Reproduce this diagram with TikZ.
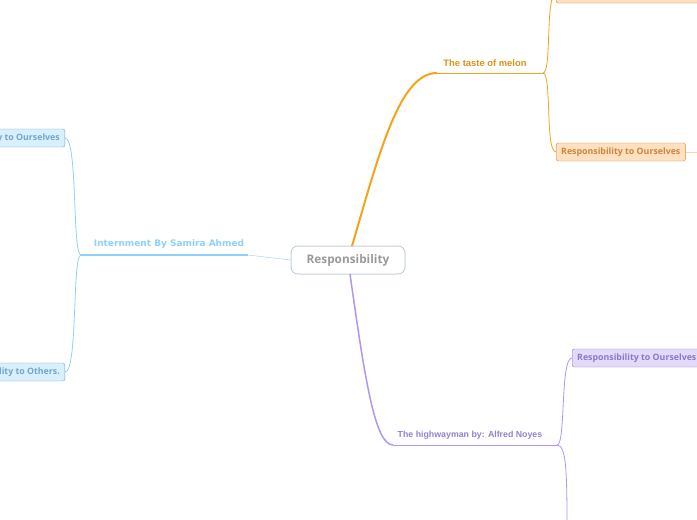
\documentclass[tikz,border=0pt]{standalone}
\usepackage{fontspec}
\setmainfont{Open Sans}
\newfontfamily\arialf{Liberation Sans}
\newfontfamily\verdf{DejaVu Sans}
\begin{document}
\begin{tikzpicture}[x=1pt,y=-1pt,
  lab/.style={font=\bfseries\fontsize{7.5}{9}\selectfont, inner sep=0pt},
  bx/.style={draw=#1!80!black, fill=#1!35, rounded corners=2pt, font=\bfseries\fontsize{8.8}{10}\selectfont, text=#1!80!black, minimum height=18pt, inner xsep=5pt, inner ysep=0pt}]
\useasboundingbox (0,0) rectangle (697,520);
\clip (0,0) rectangle (697,520);
\definecolor{orng}{HTML}{F7A21B}
\definecolor{obox}{HTML}{FFA64D}
\definecolor{blu}{HTML}{8FD0FA}
\definecolor{pur}{HTML}{B095F5}
\node[draw={rgb,255:red,195;green,208;blue,222}, line width=1pt, rounded corners=7pt, minimum width=114pt, minimum height=28pt, font=\bfseries\fontsize{11.8}{13}\selectfont, text=gray!80] (c) at (348,260) {Responsibility};
% orange
\node[lab, font=\arialf\bfseries\fontsize{9.4}{10}\selectfont, text=orng!90!black] (m) at (485,63) {The taste of melon};
\coordinate (m1) at (437,73); \coordinate (m2) at (543,73);
\draw[orng, line width=2pt] (352,246) .. controls (380,150) and (400,73) .. (m1);
\draw[orng, line width=0.8pt] (m1) -- (m2);
\node[bx=obox, anchor=west, minimum width=150pt] (o1) at (556,-6) {Responsibility to Others};
\node[bx=obox, anchor=west] (o2) at (556,152) {Responsibility to Ourselves};
\draw[orng, line width=0.8pt] (m2) .. controls (552,73) and (545,-6) .. (o1.west);
\draw[orng, line width=0.8pt] (m2) .. controls (552,73) and (545,152) .. (o2.west);
\draw[obox!50] (o2.east) -- (697,152);
% blue
\node[lab, font=\verdf\bfseries\fontsize{9}{10}\selectfont, text=blu] (s) at (169,244) {Internment By Samira Ahmed};
\coordinate (s1) at (81,255); \coordinate (s2) at (248,255);
\draw[blu, line width=1.3pt] (s1) -- (s2);
\draw[blu] (s2) -- (c.west);
\node[bx=blu, anchor=east] (b1) at (65,138) {Responsibility to Ourselves};
\node[bx=blu, anchor=east] (b2) at (65,372) {Responsibility to Others.};
\draw[blu, line width=0.8pt] (s1) .. controls (72,255) and (78,138) .. (b1.east);
\draw[blu, line width=0.8pt] (s1) .. controls (72,255) and (78,372) .. (b2.east);
% purple
\node[lab, font=\arialf\bfseries\fontsize{8.8}{10}\selectfont, text=pur!85!black] (h) at (470,435) {The highwayman by: Alfred Noyes};
\coordinate (h1) at (393,445); \coordinate (h2) at (557,445);
\draw[pur, line width=1.5pt] (350,274) .. controls (365,380) and (375,445) .. (h1);
\draw[pur, line width=0.8pt] (h1) -- (h2);
\node[bx=pur, anchor=west] (p1) at (572,358) {Responsibility to Ourselves};
\coordinate (p2) at (567,525);
\draw[pur, line width=0.8pt] (h2) .. controls (566,445) and (560,358) .. (p1.west);
\draw[pur, line width=0.8pt] (h2) .. controls (566,445) and (567,470) .. (p2);
\end{tikzpicture}
\end{document}
